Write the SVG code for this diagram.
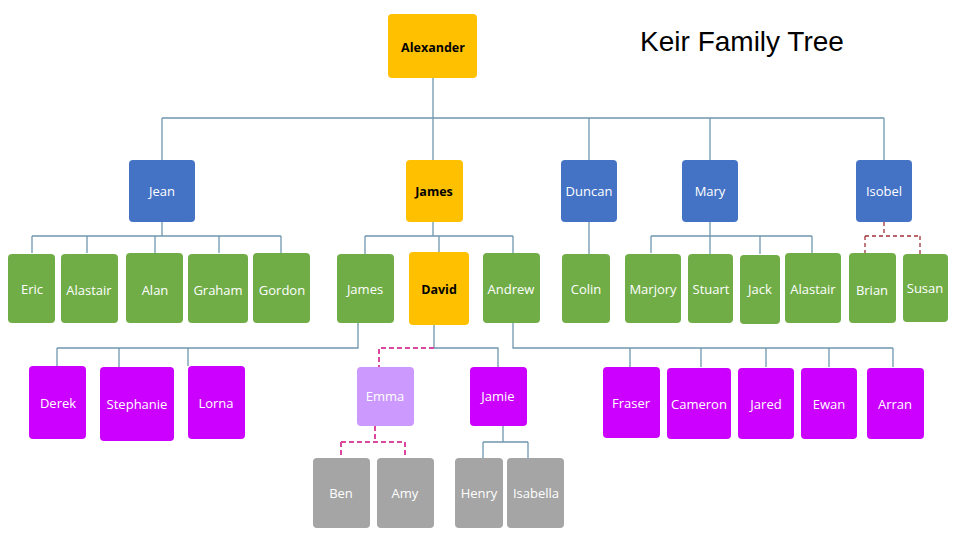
<svg xmlns="http://www.w3.org/2000/svg" width="960" height="540" viewBox="0 0 960 540">
<style>
rect{rx:4}
.b{fill:#4472C4}.g{fill:#70AD47}.y{fill:#FFC000}.p{fill:#CC00FF}.l{fill:#CC99FF}.gr{fill:#A5A5A5}
text{font-family:"Open Sans","DejaVu Sans",sans-serif;font-size:13px;fill:#fff;text-anchor:middle;dominant-baseline:central}
.k{fill:#000;font-weight:bold;font-size:12.5px}
.c path{fill:none;stroke:#6F97AE;stroke-width:1.3}
.c path.d{stroke:#D9479E;stroke-width:2;stroke-dasharray:5 3}
.c path.r{stroke:#A0323A;stroke-width:1.3;stroke-dasharray:4 3}
</style>
<rect width="960" height="540" fill="#fff"/>
<text x="742" y="41" style="font-family:'Liberation Sans',Arial,sans-serif;font-size:28px;fill:#000">Keir Family Tree</text>
<g class="c">
<path d="M433 78V118M162 118H884M162 118V160M433 118V160M589 118V160M710 118V160M884 118V160"/>
<path d="M162 222V236M32 236H281M32 236V253M87 236V253M155 236V253M219 236V253M281 236V253"/>
<path d="M433 222V236M365 236H513M365 236V254M439 236V252M513 236V253"/>
<path d="M589 222V254"/>
<path d="M710 222V236M651 236H812M651 236V253M710 236V254M760 236V254M812 236V253"/>
<path class="r" d="M884 222V236M865 236H920M865 236V253M920 236V254"/>
<path d="M358 323V348H57M57 348V366M119 348V367M188 348V366"/>
<path d="M434 325V348H498V367"/>
<path d="M513 323V348H893M630 348V367M701 348V367M766 348V367M829 348V367M893 348V367"/>
<path class="d" d="M434 348H379V367"/>
<path class="d" d="M375 426V442M341 442H405M341 442V458M405 442V458"/>
<path d="M503 426V442M483 442H528M483 442V458M528 442V458"/>
</g>
<g id="alexander"><rect class="y" x="388" y="14" width="89" height="64"/><text class="k" x="433" y="47">Alexander</text></g>
<g id="jean"><rect class="b" x="129" y="160" width="66" height="62"/><text x="162" y="191">Jean</text></g>
<g id="james"><rect class="y" x="406" y="160" width="57" height="62"/><text class="k" x="434" y="191">James</text></g>
<g id="duncan"><rect class="b" x="561" y="160" width="56" height="62"/><text x="589" y="191">Duncan</text></g>
<g id="mary"><rect class="b" x="682" y="160" width="56" height="62"/><text x="710" y="191">Mary</text></g>
<g id="isobel"><rect class="b" x="856" y="160" width="56" height="62"/><text x="884" y="191">Isobel</text></g>
<g id="eric"><rect class="g" x="8" y="254" width="47" height="69"/><text x="32" y="289">Eric</text></g>
<g id="alastair1"><rect class="g" x="61" y="254" width="57" height="69"/><text x="89" y="290">Alastair</text></g>
<g id="alan"><rect class="g" x="126" y="253" width="57" height="70"/><text x="155" y="290">Alan</text></g>
<g id="graham"><rect class="g" x="188" y="254" width="60" height="69"/><text x="218" y="290">Graham</text></g>
<g id="gordon"><rect class="g" x="253" y="253" width="57" height="70"/><text x="282" y="290">Gordon</text></g>
<g id="james2"><rect class="g" x="337" y="254" width="57" height="69"/><text x="365" y="289">James</text></g>
<g id="david"><rect class="y" x="409" y="252" width="60" height="73"/><text class="k" x="439" y="289">David</text></g>
<g id="andrew"><rect class="g" x="483" y="253" width="57" height="70"/><text x="511" y="289">Andrew</text></g>
<g id="colin"><rect class="g" x="562" y="254" width="48" height="69"/><text x="586" y="289">Colin</text></g>
<g id="marjory"><rect class="g" x="625" y="254" width="56" height="69"/><text x="653" y="289">Marjory</text></g>
<g id="stuart"><rect class="g" x="688" y="254" width="45" height="69"/><text x="711" y="289">Stuart</text></g>
<g id="jack"><rect class="g" x="740" y="255" width="40" height="69"/><text x="760" y="289">Jack</text></g>
<g id="alastair2"><rect class="g" x="785" y="253" width="56" height="70"/><text x="813" y="289">Alastair</text></g>
<g id="brian"><rect class="g" x="849" y="253" width="47" height="70"/><text x="872" y="290">Brian</text></g>
<g id="susan"><rect class="g" x="903" y="254" width="45" height="68"/><text x="925" y="288">Susan</text></g>
<g id="derek"><rect class="p" x="29" y="366" width="57" height="73"/><text x="58" y="403">Derek</text></g>
<g id="stephanie"><rect class="p" x="100" y="367" width="74" height="74"/><text x="137" y="404">Stephanie</text></g>
<g id="lorna"><rect class="p" x="188" y="366" width="57" height="73"/><text x="216" y="403">Lorna</text></g>
<g id="emma"><rect class="l" x="357" y="367" width="57" height="59"/><text x="385" y="396">Emma</text></g>
<g id="jamie"><rect class="p" x="470" y="367" width="57" height="59"/><text x="498" y="396">Jamie</text></g>
<g id="fraser"><rect class="p" x="603" y="367" width="57" height="71"/><text x="631" y="403">Fraser</text></g>
<g id="cameron"><rect class="p" x="667" y="368" width="64" height="71"/><text x="699" y="404">Cameron</text></g>
<g id="jared"><rect class="p" x="738" y="368" width="56" height="71"/><text x="766" y="404">Jared</text></g>
<g id="ewan"><rect class="p" x="801" y="368" width="56" height="71"/><text x="829" y="404">Ewan</text></g>
<g id="arran"><rect class="p" x="867" y="368" width="57" height="71"/><text x="895" y="404">Arran</text></g>
<g id="ben"><rect class="gr" x="313" y="458" width="57" height="70"/><text x="341" y="493">Ben</text></g>
<g id="amy"><rect class="gr" x="377" y="458" width="57" height="70"/><text x="405" y="493">Amy</text></g>
<g id="henry"><rect class="gr" x="455" y="458" width="48" height="70"/><text x="479" y="493">Henry</text></g>
<g id="isabella"><rect class="gr" x="507" y="458" width="57" height="70"/><text x="536" y="493">Isabella</text></g>
</svg>
